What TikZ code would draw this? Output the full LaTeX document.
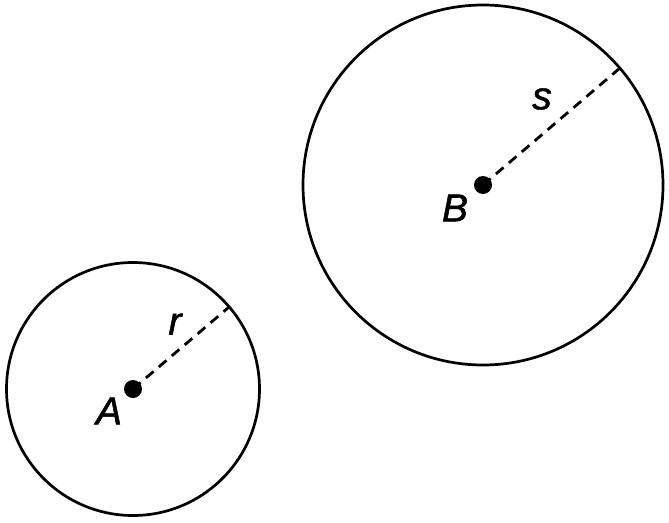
\documentclass[tikz,border=0pt]{standalone}
\usepackage{fontspec}
\setmainfont{Liberation Sans}
\newfontfamily\lblfont{Liberation Sans}[ItalicFeatures={FakeBold=1.3}]
\usetikzlibrary{calc}
\begin{document}
\begin{tikzpicture}[x=1pt,y=-1pt,
  circ/.style={draw=black,line width=2.7pt},
  ctr/.style={circle,fill=black,inner sep=0pt,minimum size=18pt},
  rad/.style={draw=black,line width=2.8pt,dash pattern=on 10pt off 7pt},
  lbl/.style={font=\lblfont\fontsize{39}{42}\selectfont\itshape,inner sep=0pt}]
\useasboundingbox (0,0) rectangle (669,522);
\node[ctr] (A) at (133,389) {};
\node[ctr] (B) at (483,185) {};
\draw[circ] (A.center) circle[radius=126.5pt];
\draw[circ] (B.center) circle[radius=180pt];
\coordinate (Ae) at ($(A.center)+(40.5:126.5pt)$);
\coordinate (Be) at ($(B.center)+(40.5:180pt)$);
\draw[rad] (A.center) -- (Ae);
\draw[rad] (B.center) -- (Be);
\node[lbl] (la) at (109,411) {A};
\node[lbl] (lb) at (455,208) {B};
\node[lbl] (lr) at (175,324) {r};
\node[lbl] (ls) at (542,99) {s};
\end{tikzpicture}
\end{document}
